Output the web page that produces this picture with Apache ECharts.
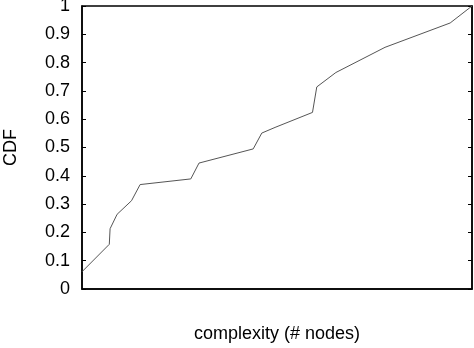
<!DOCTYPE html>
<html>
<head>
<meta charset="utf-8">
<script src="https://cdn.jsdelivr.net/npm/echarts@6/dist/echarts.min.js"></script>
<style>html,body{margin:0;padding:0;background:#fff}#c{width:474px;height:348px}</style>
</head>
<body>
<div id="c"></div>
<script>
// complexity (relative position, arbitrary units 0-100, no tick labels in reference)
var complexity = [0, 7.0, 7.2, 9.0, 12.7, 14.9, 27.9, 30.0, 43.9, 46.1, 49.5, 59.1, 60.2, 65.1, 77.7, 94.4, 100];
var cdf = [0.061, 0.158, 0.213, 0.264, 0.312, 0.369, 0.389, 0.445, 0.495, 0.551, 0.571, 0.624, 0.714, 0.765, 0.854, 0.94, 1.0];
var yTicks = ['0','0.1','0.2','0.3','0.4','0.5','0.6','0.7','0.8','0.9','1'];

var data = complexity.map(function(x, i){ return [x, cdf[i]]; });
var font = 'Liberation Sans, Arial, Helvetica, sans-serif';
var chart = echarts.init(document.getElementById('c'));
chart.setOption({
  animation: false,
  grid: {left: 82, right: 2, top: 6, bottom: 59, show: true, borderColor: '#000', borderWidth: 1.5,
    containLabel: false, outerBoundsMode: 'none'},
  xAxis: {
    type: 'value', min: 0, max: 100,
    name: 'complexity (# nodes)', nameLocation: 'middle', nameGap: 36,
    nameTextStyle: {fontFamily: font, fontSize: 18, color: '#000'},
    axisLine: {show: true, lineStyle: {color: '#000', width: 1.5}},
    axisTick: {show: false}, axisLabel: {show: false}, splitLine: {show: false}
  },
  yAxis: [{
    type: 'value', min: 0, max: 1, interval: 0.1,
    name: 'CDF', nameLocation: 'middle', nameGap: 62,
    nameTextStyle: {fontFamily: font, fontSize: 18, color: '#000'},
    axisLine: {show: true, lineStyle: {color: '#000', width: 1.5}},
    axisTick: {show: true, inside: true, length: 4, lineStyle: {color: '#000'}},
    axisLabel: {fontFamily: font, fontSize: 18, color: '#000', margin: 12,
      formatter: function(v){ var i = Math.round(v*10); return yTicks[i]; }},
    splitLine: {show: false}
  }, {
    type: 'value', min: 0, max: 1, interval: 0.1, position: 'right',
    axisLine: {show: true, lineStyle: {color: '#000', width: 1.5}},
    axisTick: {show: true, inside: true, length: 4, lineStyle: {color: '#000'}},
    axisLabel: {show: false}, splitLine: {show: false}
  }],
  series: [{
    type: 'line', data: data, showSymbol: false, symbol: 'none',
    lineStyle: {color: '#555', width: 1}
  }]
});
</script>
</body>
</html>
